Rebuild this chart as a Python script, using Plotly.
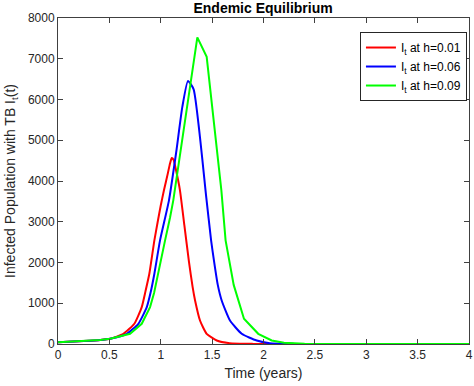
import plotly.graph_objects as go

t_h001 = [0, 0.25, 0.41, 0.507, 0.636, 0.743, 0.815, 0.852, 0.889, 0.938, 0.97, 1.0, 1.031, 1.07, 1.09, 1.107,
          1.125, 1.15, 1.187, 1.23, 1.275, 1.31, 1.334, 1.382, 1.447, 1.545, 1.67, 1.9, 2.2, 3.0, 4.0]
v_h001 = [44, 75, 100, 128, 250, 496, 905, 1300, 1725, 2543, 2993, 3400, 3771, 4200, 4430, 4565,
          4520, 4250, 3771, 2910, 2010, 1400, 1069, 577, 250, 86, 20, 3, 0, 0, 0]

t_h006 = [0, 0.25, 0.41, 0.507, 0.669, 0.782, 0.864, 0.9, 0.938, 0.993, 1.08, 1.15, 1.21, 1.265, 1.32,
          1.443, 1.49, 1.52, 1.555, 1.593, 1.674, 1.788, 1.934, 2.06, 2.3, 2.6, 3.0, 4.0]
v_h006 = [44, 75, 100, 130, 250, 496, 905, 1250, 1725, 2543, 3526, 4700, 5818, 6457, 6250,
          3600, 2543, 2010, 1450, 1069, 577, 250, 86, 20, 3, 0, 0, 0]

t_h009 = [0, 0.25, 0.41, 0.507, 0.701, 0.815, 0.896, 0.935, 0.977, 1.042, 1.09, 1.122, 1.356, 1.447, 1.59, 1.631,
          1.71, 1.755, 1.81, 1.949, 2.08, 2.2, 2.4, 2.7, 3.0, 4.0]
v_h009 = [44, 75, 100, 130, 250, 496, 905, 1250, 1725, 2543, 3100, 3526, 7523, 7047, 3771, 2543,
          1450, 1069, 620, 250, 86, 30, 5, 0, 0, 0]

x_ticks = [0, 0.5, 1, 1.5, 2, 2.5, 3, 3.5, 4]
y_ticks = [0, 1000, 2000, 3000, 4000, 5000, 6000, 7000, 8000]

series = [
    (t_h001, v_h001, "I<sub>t</sub> at h=0.01", "#ff0000", "spline"),
    (t_h006, v_h006, "I<sub>t</sub> at h=0.06", "#0000ff", "spline"),
    (t_h009, v_h009, "I<sub>t</sub> at h=0.09", "#00ff00", "linear"),
]

fig = go.Figure()
for t, v, name, col, shape in series:
    line = dict(color=col, width=2, shape=shape)
    if shape == "spline":
        line["smoothing"] = 0.5
    fig.add_trace(go.Scatter(x=t, y=v, mode="lines", name=name, line=line))

axis_col = "#404040"
fig.update_layout(
    width=474, height=386,
    margin=dict(l=58, r=5, t=18, b=42),
    paper_bgcolor="white", plot_bgcolor="white",
    font=dict(family="Liberation Sans, Arial, sans-serif", size=12, color="#262626"),
    title=dict(text="<b>Endemic Equilibrium</b>", x=0.555, xanchor="center",
               y=0.978, yanchor="middle", font=dict(size=14, color="#000000")),
    showlegend=True,
    legend=dict(x=0.995, y=0.957, xanchor="right", yanchor="top",
                bordercolor="#262626", borderwidth=1, bgcolor="white",
                font=dict(size=12, color="#000000"), tracegroupgap=2),
)
fig.update_xaxes(range=[0, 4], tickvals=x_ticks, ticktext=[str(x) for x in x_ticks],
                 ticks="inside", ticklen=5, tickcolor=axis_col, automargin=False,
                 showline=True, linecolor=axis_col, linewidth=1, mirror="ticks",
                 showgrid=False, zeroline=False,
                 title=dict(text="Time (years)", font=dict(size=14), standoff=6))
fig.update_yaxes(range=[0, 8000], tickvals=y_ticks, ticktext=[str(y) for y in y_ticks],
                 ticks="inside", ticklen=5, tickcolor=axis_col, automargin=False,
                 showline=True, linecolor=axis_col, linewidth=1, mirror="ticks",
                 showgrid=False, zeroline=False,
                 title=dict(text="Infected Population with TB I<sub>t</sub>(t)",
                            font=dict(size=14), standoff=8))

fig.write_html("out.html", config={"displayModeBar": False},
               post_script="document.body.style.margin='0';")
